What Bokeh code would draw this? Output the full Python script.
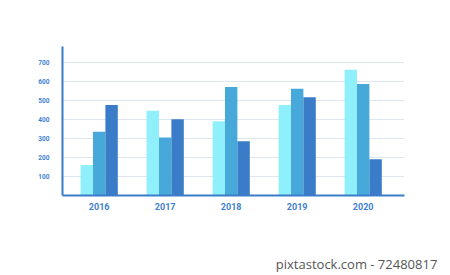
from bokeh.plotting import figure
from bokeh.models import ColumnDataSource, FixedTicker, Range1d, LinearAxis
from bokeh.transform import dodge
from bokeh.embed import file_html
from bokeh.resources import INLINE

years = ["2016", "2017", "2018", "2019", "2020"]
series_a = [160, 445, 390, 475, 660]
series_b = [335, 305, 570, 560, 585]
series_c = [475, 400, 285, 515, 190]
y_ticks = [100, 200, 300, 400, 500, 600, 700]
credit = "pixtastock.com - 72480817"

pos = list(range(len(years)))
src = ColumnDataSource(dict(x=pos, a=series_a, b=series_b, c=series_c))

p = figure(width=450, height=275, output_backend="svg", toolbar_location=None,
           x_range=Range1d(-0.556, 4.626), y_range=Range1d(0, 782),
           min_border_left=62, min_border_right=46, min_border_top=46, min_border_bottom=80)
p.outline_line_color = None
p.background_fill_color = "white"
p.border_fill_color = "white"

w = 0.188
p.vbar(x=dodge("x", -w, range=p.x_range), top="a", width=w, source=src,
       fill_color="#8ff0fb", line_color=None)
p.vbar(x="x", top="b", width=w, source=src, fill_color="#47a9d9", line_color=None)
p.vbar(x=dodge("x", w, range=p.x_range), top="c", width=w, source=src,
       fill_color="#3b7cc9", line_color=None)

# axes
p.xaxis.ticker = FixedTicker(ticks=pos)
p.xaxis.major_label_overrides = {i: y for i, y in enumerate(years)}
p.xaxis.axis_line_color = "#3b7cc9"
p.xaxis.axis_line_width = 2
p.xaxis.major_tick_line_color = None
p.xaxis.minor_tick_line_color = None
p.xaxis.major_label_text_color = "#3f7fcf"
p.xaxis.major_label_text_font = "Roboto"
p.xaxis.major_label_text_font_style = "bold"
p.xaxis.major_label_text_font_size = "9px"
p.xaxis.major_label_standoff = 1

p.yaxis.ticker = FixedTicker(ticks=y_ticks)
p.yaxis.axis_line_color = "#3b7cc9"
p.yaxis.axis_line_width = 2
p.yaxis.major_tick_line_color = None
p.yaxis.minor_tick_line_color = None
p.yaxis.major_label_text_color = "#3f7fcf"
p.yaxis.major_label_text_font = "Roboto"
p.yaxis.major_label_text_font_style = "bold"
p.yaxis.major_label_text_font_size = "6.5px"
p.yaxis.major_label_standoff = 7

p.xgrid.grid_line_color = None
p.ygrid.ticker = FixedTicker(ticks=y_ticks)
p.ygrid.grid_line_color = "#dde6f1"
p.ygrid.grid_line_width = 1

# credit line as a label-only axis below
cax = LinearAxis(ticker=FixedTicker(ticks=[3.9]), major_label_overrides={3.9: credit},
                 axis_line_color=None, major_tick_line_color=None, minor_tick_line_color=None,
                 major_label_text_font="Open Sans", major_label_text_font_size="13px",
                 major_label_text_color="#555555", major_label_standoff=36)
p.add_layout(cax, "below")

open("out.html", "w").write(file_html(p, INLINE))
